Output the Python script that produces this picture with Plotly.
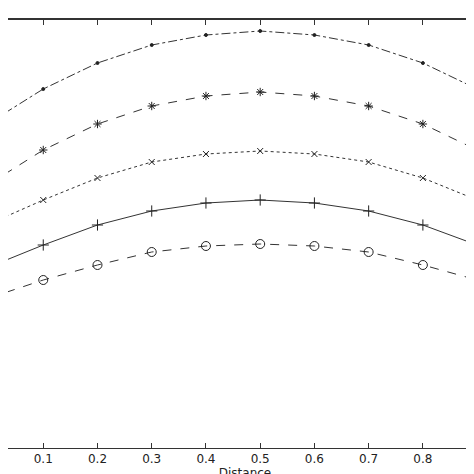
import plotly.graph_objects as go

x = [0.0, 0.1, 0.2, 0.3, 0.4, 0.5, 0.6, 0.7, 0.8, 0.9, 1.0]
# curve heights (arbitrary units, no y axis shown)
y_dot = [325, 359, 385, 403, 413, 417, 413, 403, 385, 359, 325]
y_star = [264, 298, 324, 342, 352, 356, 352, 342, 324, 298, 264]
y_cross = [224, 248, 270, 286, 294, 297, 294, 286, 270, 248, 224]
y_plus = [181, 203, 223, 237, 245, 248, 245, 237, 223, 203, 181]
y_circle = [150, 168, 183, 196, 202, 204, 202, 196, 183, 168, 150]
ticks = [0.1, 0.2, 0.3, 0.4, 0.5, 0.6, 0.7, 0.8, 0.9]

series = [
    (y_dot, "dashdot", "circle", 3),
    (y_star, "dash", "asterisk-open", 7),
    (y_cross, "dot", "x-thin-open", 6),
    (y_plus, "solid", "cross-thin-open", 8),
    (y_circle, "dash", "circle-open", 9),
]

fig = go.Figure()
for ys, dash, sym, size in series:
    fig.add_trace(go.Scatter(
        x=x, y=ys, mode="lines+markers",
        line=dict(color="#333333", width=1, dash=dash),
        marker=dict(symbol=sym, size=size, color="#222222",
                    line=dict(color="#222222", width=1)),
        showlegend=False,
    ))

fig.update_layout(
    width=474, height=474,
    margin=dict(l=0, r=0, t=12, b=34),
    plot_bgcolor="white", paper_bgcolor="white",
    font=dict(family="DejaVu Sans", size=12, color="#222222"),
    xaxis=dict(
        range=[0.035, 0.909], tickvals=ticks,
        ticks="inside", ticklen=5, tickcolor="#333333", showgrid=False,
        zeroline=False, showline=True, linecolor="#333333", automargin=False,
        title=dict(text="Distance", standoff=0, font=dict(size=12)),
    ),
    # top frame line with inward ticks
    xaxis2=dict(
        overlaying="x", side="top", matches="x", tickvals=ticks,
        ticks="inside", ticklen=5, tickcolor="#333333", showticklabels=False,
        showgrid=False, zeroline=False, showline=True, linecolor="#333333",
        linewidth=2, automargin=False,
    ),
    yaxis=dict(range=[0, 428], showticklabels=False, showgrid=False,
               zeroline=False, showline=False, automargin=False),
)
fig.add_trace(go.Scatter(x=[0.5], y=[-10], xaxis="x2", mode="markers",
                         marker=dict(opacity=0), showlegend=False, hoverinfo="skip"))

fig.write_html("out.html")
